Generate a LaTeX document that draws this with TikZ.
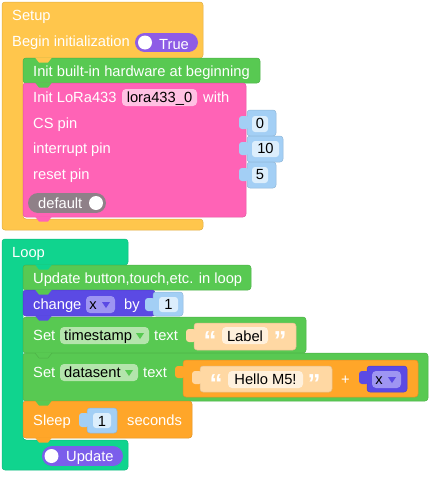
\documentclass[tikz,border=0pt]{standalone}
\usepackage{fontspec}
\setmainfont{Liberation Sans}
\definecolor{cyel}{HTML}{FFC64C}
\definecolor{cgrn}{HTML}{58C952}
\definecolor{cpnk}{HTML}{FF63B6}
\definecolor{cteal}{HTML}{10D48E}
\definecolor{cpur}{HTML}{5B4AE4}
\definecolor{ctog}{HTML}{8E5CE6}
\definecolor{cupd}{HTML}{7B5EEB}
\definecolor{corg}{HTML}{FFA629}
\definecolor{cpeach}{HTML}{FFD8A3}
\definecolor{cpeachf}{HTML}{FFF1DD}
\definecolor{cblue}{HTML}{A3CFF5}
\definecolor{cbluef}{HTML}{DCEEFC}
\definecolor{cpnkf}{HTML}{FFC1E3}
\definecolor{cgray}{HTML}{8F8088}
\definecolor{clav}{HTML}{9E95F2}
\definecolor{cgrnf}{HTML}{B4E5AC}
\tikzset{
  blk/.style={fill=#1, draw=#1!88!black, line width=0.5pt, rounded corners=3pt},
  lbl/.style={anchor=base west, text=white, inner sep=0pt, font=\fontsize{14.7}{16}\selectfont},
  val/.style={anchor=base, text=black, inner sep=0pt, font=\fontsize{14.7}{16}\selectfont},
  qt/.style={anchor=base, text=white, inner sep=0pt, font=\fontsize{26}{26}\selectfont\bfseries},
}
% tab under a statement block: left x, y
\newcommand{\blkTab}[3]{\fill[#3] (#1+12,#2-0.5) -- (#1+16,#2+4.5) -- (#1+25,#2+4.5) -- (#1+29,#2-0.5) -- cycle;}
% left value bump: x, y1, y2, colour
\newcommand{\blkBump}[4]{\fill[#4, rounded corners=3pt] (#1-8,#2) rectangle (#1+2,#3);}
\newcommand{\dtri}[3]{\fill[#3] (#1-4,#2-3) -- (#1+4,#2-3) -- (#1,#2+3) -- cycle;}
\begin{document}
\begin{tikzpicture}[x=1pt,y=-1pt]
\useasboundingbox (0,0) rectangle (435,477);
% ---------- Setup ----------
\path[blk=cyel] (2,2) -- (203,2) -- (203,58) -- (23,58) -- (23,219) -- (203,219) -- (203,230) -- (2,230) -- cycle;
\node[lbl] (setup) at (12,20.5) {Setup};
\node[lbl] (begin) at (12,46.5) {Begin initialization};
\fill[ctog] (144.5,33) rectangle (188.5,52);
\fill[ctog] (144.5,42.5) circle (9.5); \fill[ctog] (188.5,42.5) circle (9.5);
\fill[white] (145,42.5) circle (7);
\node[lbl] (true) at (159,49) {True};
% green init
\path[blk=cgrn] (23,58) rectangle (260,83);
\blkTab{23}{58}{cyel}
\node[lbl] (initbi) at (33,76) {Init built-in hardware at beginning};
% pink
\path[blk=cpnk] (23,83) rectangle (246,217);
\blkTab{23}{83}{cgrn}
\node[lbl] (initlora) at (33,102) {Init LoRa433};
\fill[cpnkf, rounded corners=4pt] (122,89) rectangle (197,106);
\node[val] (lorav) at (159.5,102) {lora433\_0};
\node[lbl] (with) at (203,102) {with};
\node[lbl] (cs) at (33,128) {CS pin};
\node[lbl] (intr) at (33,153.5) {interrupt pin};
\node[lbl] (rst) at (33,179) {reset pin};
\fill[cgray] (38,193) rectangle (96,213);
\fill[cgray] (38,203) circle (10); \fill[cgray] (96,203) circle (10);
\fill[white] (96,203) circle (7);
\node[lbl] (def) at (38,208.5) {default};
% value blocks
\path[blk=cblue] (247,110) rectangle (276,136);
\blkBump{247}{116}{129}{cblue}
\fill[cbluef, rounded corners=3pt] (252,116) rectangle (268,132);
\node[val] (v0) at (260,128) {0};
\path[blk=cblue] (247,136) rectangle (283,162);
\blkBump{247}{142}{155}{cblue}
\fill[cbluef, rounded corners=3pt] (252,141) rectangle (279,157);
\node[val] (v10) at (265.5,153.5) {10};
\path[blk=cblue] (247,162) rectangle (276,188);
\blkBump{247}{168}{181}{cblue}
\fill[cbluef, rounded corners=3pt] (252,167) rectangle (268,183);
\node[val] (v5) at (260,179.5) {5};
\blkTab{23}{217}{cpnk}
% ---------- Loop ----------
\path[blk=cteal] (2,239) -- (128,239) -- (128,265) -- (23,265) -- (23,440) -- (128,440) -- (128,470) -- (2,470) -- cycle;
\node[lbl] (loop) at (12,257) {Loop};
\fill[cupd] (52,446) rectangle (113,466);
\fill[cupd] (52,456) circle (10); \fill[cupd] (113,456) circle (10);
\fill[white] (51.5,456) circle (7);
\node[lbl] (upd) at (66,461.5) {Update};
% green update
\path[blk=cgrn] (23,265) rectangle (251,290);
\blkTab{23}{265}{cteal}
\node[lbl] (updbtn) at (33,283) {Update button,touch,etc. in loop};
% change
\path[blk=cpur] (23,290) rectangle (155,316);
\blkTab{23}{290}{cgrn}
\node[lbl] (chg) at (33,309) {change};
\fill[clav, rounded corners=4pt] (86,296) rectangle (115,313);
\node[val] (chx) at (93,309) {x};
\dtri{106}{305}{cpur}
\node[lbl] (by) at (124,309) {by};
\path[blk=cblue] (153,292) rectangle (183,316);
\blkBump{153}{298}{311}{cblue}
\fill[cbluef, rounded corners=3pt] (159,297) rectangle (178,312);
\node[val] (one) at (168.5,309) {1};
% set timestamp
\path[blk=cgrn] (23,317) rectangle (306,353);
\blkTab{23}{316}{cpur}
\node[lbl] (set1) at (33,340.5) {Set};
\fill[cgrnf, rounded corners=4pt] (60,327) rectangle (149,344);
\node[val, anchor=base west] (ts) at (64,340.5) {timestamp};
\dtri{140}{336}{cgrn}
\node[lbl] (text1) at (154,340.5) {text};
\path[blk=cpeach] (194,323) rectangle (296,350);
\blkBump{194}{329}{342}{cpeach}
\node[qt] (q1) at (210,349) {“};
\fill[cpeachf, rounded corners=4pt] (222,327) rectangle (268,344);
\node[val] (lab) at (245,341) {Label};
\node[qt] (q2) at (280,349) {”};
% set datasent
\path[blk=cgrn] (23,353) rectangle (428,401);
\blkTab{23}{353}{cgrn}
\draw[cgrn!88!black, line width=0.5pt] (35,353) -- (39,358) -- (48,358) -- (52,353);
\node[lbl] (set2) at (33,377) {Set};
\fill[cgrnf, rounded corners=4pt] (60,364) rectangle (138,381);
\node[val, anchor=base west] (ds) at (64,377) {datasent};
\dtri{129}{373}{cgrn}
\node[lbl] (text2) at (143,377) {text};
\path[blk=corg] (183,360) rectangle (418,397);
\blkBump{183}{366}{378}{corg}
\path[blk=cpeach] (200,366) rectangle (332,392);
\blkBump{200}{371}{384}{cpeach}
\node[qt] (q3) at (216,392) {“};
\fill[cpeachf, rounded corners=4pt] (228,371) rectangle (303,388);
\node[val] (hello) at (265.5,384.5) {Hello M5!};
\node[qt] (q4) at (314,392) {”};
\node[lbl] (plus) at (341,384.5) {+};
\path[blk=cpur] (367,366) rectangle (407,392);
\blkBump{367}{371}{384}{cpur}
\fill[clav, rounded corners=4pt] (372,371) rectangle (401,388);
\node[val] (vx) at (379,384.5) {x};
\dtri{392}{380}{cpur}
% sleep
\path[blk=corg] (23,401) rectangle (192,438);
\blkTab{23}{401}{cgrn}
\node[lbl] (sleep) at (33,425) {Sleep};
\path[blk=cblue] (87,408) rectangle (117,433);
\blkBump{87}{413}{427}{cblue}
\fill[cbluef, rounded corners=3pt] (93,413) rectangle (111,428);
\node[val] (one2) at (102,426) {1};
\node[lbl] (secs) at (127,425) {seconds};
\blkTab{23}{438}{corg}
\end{tikzpicture}
\end{document}
